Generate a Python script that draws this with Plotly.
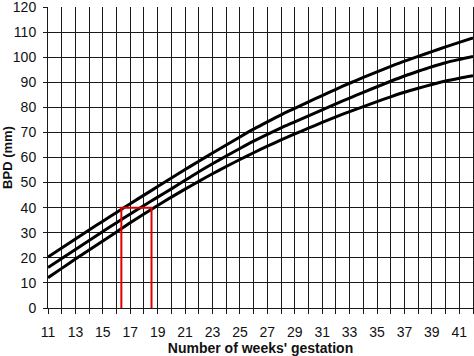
import plotly.graph_objects as go

weeks = list(range(11, 43))
upper = [20.3, 23.9, 27.5, 31.1, 34.6, 38.1, 41.6, 45.0, 48.4, 51.8, 55.2, 58.5,
         61.8, 65.0, 68.2, 71.3, 74.2, 77.0, 79.6, 82.2, 84.7, 87.2, 89.6, 91.9,
         94.1, 96.3, 98.4, 100.3, 102.2, 104.1, 105.9, 107.7]
middle = [16.1, 19.7, 23.3, 26.9, 30.5, 34.0, 37.5, 40.9, 44.2, 47.5, 50.9, 54.3,
          57.5, 60.6, 63.6, 66.5, 69.2, 71.8, 74.2, 76.6, 79.0, 81.4, 83.7, 86.0,
          88.2, 90.4, 92.5, 94.4, 96.2, 97.8, 99.1, 100.3]
lower = [12.1, 15.8, 19.5, 23.1, 26.7, 30.3, 34.0, 37.5, 40.9, 44.2, 47.4, 50.5,
         53.5, 56.4, 59.2, 61.9, 64.5, 67.0, 69.4, 71.7, 74.0, 76.2, 78.3, 80.3,
         82.3, 84.2, 86.0, 87.6, 89.1, 90.5, 91.6, 92.6]
red_x = [16.35, 16.35, 18.55, 18.55]
red_y = [0, 40, 40, 0]
x_ticks = list(range(11, 42, 2))
y_ticks = list(range(0, 121, 10))

fig = go.Figure()
for s in (upper, middle, lower):
    fig.add_trace(go.Scatter(x=weeks, y=s, mode="lines",
                             line=dict(color="black", width=3, shape="spline", smoothing=0.8),
                             showlegend=False, hoverinfo="skip"))
fig.add_trace(go.Scatter(x=red_x, y=red_y, mode="lines",
                         line=dict(color="#e00000", width=2), showlegend=False,
                         hoverinfo="skip"))

tickfont = dict(family="Liberation Sans Narrow, Arial Narrow, Liberation Sans, Arial",
                size=14, color="#111")
fig.update_layout(
    width=474, height=356,
    margin=dict(l=48, r=1, t=7, b=48),
    paper_bgcolor="white", plot_bgcolor="white",
    xaxis=dict(range=[11, 42], tickvals=x_ticks, ticktext=[str(v) for v in x_ticks],
               automargin=False, ticklabeloverflow="allow",
               showgrid=True, gridcolor="#1a1a1a", gridwidth=1,
               minor=dict(dtick=1, tick0=11, showgrid=True, gridcolor="#1a1a1a",
                          gridwidth=1, ticks="outside", ticklen=5, tickcolor="#1a1a1a"),
               ticks="outside", ticklen=5, tickcolor="#1a1a1a",
               tickfont=tickfont, ticklabelstandoff=6,
               showline=True, linecolor="#1a1a1a", linewidth=1, zeroline=False,
               title=dict(text="<b>Number of weeks' gestation</b>", standoff=4,
                          font=dict(family="Liberation Sans, Arial", size=14, color="#111"))),
    yaxis=dict(range=[0, 120], tickvals=y_ticks, automargin=False,
               ticklabeloverflow="allow",
               showgrid=True, gridcolor="#1a1a1a", gridwidth=1,
               ticks="outside", ticklen=4, tickcolor="#1a1a1a",
               tickfont=tickfont, ticklabelstandoff=4,
               showline=True, linecolor="#1a1a1a", linewidth=1, mirror=True, zeroline=False,
               title=dict(text="<b>BPD (mm)</b>", standoff=6,
                          font=dict(family="Liberation Sans, Arial", size=13, color="#111"))),
)
fig.write_html("out.html", config={"displayModeBar": False},
               post_script="document.body.style.margin='0';")
